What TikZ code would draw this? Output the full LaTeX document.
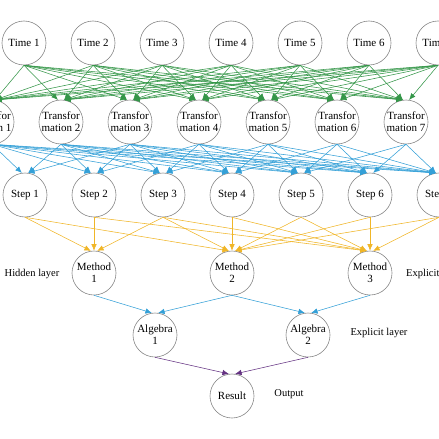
\documentclass[tikz,border=0pt]{standalone}
\usepackage{fontspec}
\setmainfont{Liberation Serif}
\usetikzlibrary{arrows.meta}
\definecolor{cgreen}{RGB}{52,150,72}
\definecolor{cblue}{RGB}{52,160,215}
\definecolor{cyellow}{RGB}{240,182,40}
\definecolor{cpurple}{RGB}{100,50,130}
\definecolor{cgray}{RGB}{135,135,135}
\tikzset{
 nd/.style={circle,draw=cgray,line width=0.6pt,minimum size=44pt,inner sep=0pt,align=center,font=\fontsize{11}{12}\selectfont},
 lbl/.style={font=\fontsize{10.5}{12}\selectfont,inner sep=0pt},
 conn/.style={line width=0.55pt,-{Latex[length=6.5pt,width=5.5pt]}},
}
\begin{document}
\begin{tikzpicture}[x=1pt,y=-1pt]
\useasboundingbox (0,0) rectangle (439,439);
\clip (0,0) rectangle (439,439);
\foreach \i in {1,...,7}{
 \node[nd] (t\i) at ({24+69*(\i-1)},43) {Time \i};
 \node[nd] (tr\i) at ({-8+69*(\i-1)},122) {Transfor\\mation \i};
 \node[nd] (s\i) at ({25+69*(\i-1)},195) {Step \i};
}
\node[nd] (m1) at (94,273) {Method\\1};
\node[nd] (m2) at (232,273) {Method\\2};
\node[nd] (m3) at (370,273) {Method\\3};
\node[nd] (a1) at (155,335) {Algebra\\1};
\node[nd] (a2) at (308,335) {Algebra\\2};
\node[nd] (r) at (232,396) {Result};
\node[lbl] (hl) at (32,274) {Hidden layer};
\node[lbl,anchor=west] (el1) at (406,274) {Explicit layer};
\node[lbl] (el2) at (379,333) {Explicit layer};
\node[lbl] (out) at (289,394) {Output};
% green: time -> transformation
\foreach \i in {1,...,7}{\foreach \j in {1,...,7}{
 \ifnum\j>\i \def\ang{98}\else\def\ang{82}\fi
 \draw[conn,cgreen] (t\i.south) -- (tr\j.\ang);
}}
% blue: transformation -> step
\foreach \i in {1,...,7}{\foreach \j in {1,...,7}{
 \pgfmathtruncatemacro\lo{\i-2}
 \ifnum\j<\lo\relax\else
 \ifnum\i>\j \def\ang{82}\else\def\ang{98}\fi
 \draw[conn,cblue] (tr\i.south) -- (s\j.\ang);
 \fi
}}
% yellow: step -> method
\foreach \a/\b/\g in {1/1/98, 1/2/98, 2/1/90, 2/3/98, 3/1/82, 3/2/98, 3/3/98, 4/2/90, 4/3/98, 5/2/82, 5/3/98, 6/2/82, 6/3/90, 7/2/82, 7/3/82}{
 \draw[conn,cyellow] (s\a.south) -- (m\b.\g);
}
% blue: method -> algebra
\draw[conn,cblue] (m1.south) -- (a1.98);
\draw[conn,cblue] (m2.south) -- (a1.82);
\draw[conn,cblue] (m2.south) -- (a2.98);
\draw[conn,cblue] (m3.south) -- (a2.82);
% purple: algebra -> result
\draw[conn,cpurple] (a1.south) -- (r.98);
\draw[conn,cpurple] (a2.south) -- (r.82);
\end{tikzpicture}
\end{document}
